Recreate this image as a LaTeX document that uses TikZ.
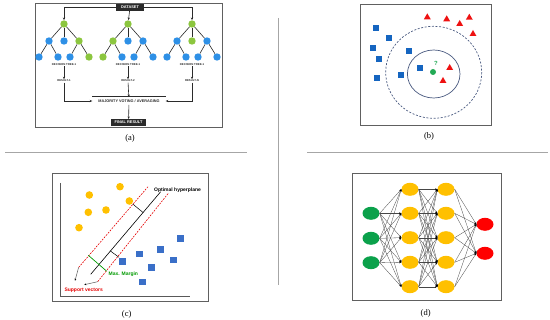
\documentclass[tikz,border=0pt]{standalone}
\usepackage{fontspec}
\setmainfont{Liberation Serif}
\setsansfont{Liberation Sans}
\usetikzlibrary{arrows.meta,positioning,calc,shapes.geometric}

\definecolor{leafgreen}{HTML}{8CC63F}
\definecolor{treeblue}{HTML}{2E90E6}
\definecolor{darkbox}{HTML}{2B2B2B}
\definecolor{knnblue}{HTML}{1565C0}
\definecolor{knnred}{HTML}{EE1111}
\definecolor{ringblue}{HTML}{4A5A80}
\definecolor{qgreen}{HTML}{22AA55}
\definecolor{gold}{HTML}{FFC000}
\definecolor{svmblue}{HTML}{3A6FC8}
\definecolor{nngreen}{HTML}{0BA14B}

\tikzset{
  panel/.style={draw=gray!75!black,line width=0.8pt},
  divider/.style={draw=gray!70,line width=0.6pt},
  caption/.style={font=\fontsize{8.5}{10}\selectfont},
  treenode/.style={circle,fill=treeblue,inner sep=0pt,minimum size=7.4pt},
  treeedge/.style={draw=darkbox,line width=0.6pt},
  flow/.style={draw=darkbox,line width=0.6pt,-{Stealth[length=2.6pt,width=2.2pt]}},
  tinylabel/.style={font=\sffamily\bfseries\fontsize{2.8}{3.4}\selectfont,text=darkbox,inner sep=0.5pt},
  darkbox/.style={fill=darkbox,text=white,font=\sffamily\bfseries\fontsize{3.9}{4.5}\selectfont,inner sep=1.6pt,minimum height=6.5pt},
  votebox/.style={draw=darkbox,double=white,double distance=0.7pt,line width=0.4pt,fill=white,
    font=\sffamily\bfseries\fontsize{3.8}{4.5}\selectfont,text=darkbox,minimum width=73pt,minimum height=7.5pt,inner sep=0.8pt},
  bluesq/.style={rectangle,fill=knnblue,inner sep=0pt,minimum size=6.2pt},
  redtri/.style={regular polygon,regular polygon sides=3,fill=knnred,inner sep=0pt,minimum size=8pt},
  ringline/.style={draw=ringblue,line width=0.7pt},
  goldball/.style={circle,fill=gold,inner sep=0pt,minimum size=7.6pt},
  svmsq/.style={rectangle,fill=svmblue,inner sep=0pt,minimum size=6.6pt},
  marginline/.style={draw=red!90!black,line width=0.6pt,dash pattern=on 1.8pt off 1.2pt},
  svmlabel/.style={font=\sffamily\bfseries\fontsize{5}{6}\selectfont,inner sep=0pt,anchor=west},
  pointer/.style={draw=gray!70!black,line width=0.5pt,-{Stealth[length=2pt,width=1.8pt,black]}},
  inputnode/.style={ellipse,fill=nngreen,inner sep=0pt,minimum width=17pt,minimum height=13pt},
  hidnode/.style={ellipse,fill=gold,inner sep=0pt,minimum width=17pt,minimum height=13pt},
  outnode/.style={ellipse,fill=red,inner sep=0pt,minimum width=17pt,minimum height=13pt},
  nnedge/.style={draw=gray!55!black,line width=0.3pt,-{Stealth[length=2.2pt,width=1.9pt,black]}}
}

\begin{document}
\begin{tikzpicture}[x=1pt,y=-1pt]
\useasboundingbox (0,0) rectangle (550,320);

% Dividers
\draw[divider] (5,152) -- (247,152);
\draw[divider] (307,152) -- (548,152);
\draw[divider] (278,18) -- (278,285);

% (a) Random forest
\draw[panel] (35,3.5) rectangle (222,127);
\foreach \t/\cx/\ca/\cb/\cc/\cd/\ce/\rs in {
    1/64/treeblue/treeblue/leafgreen/treeblue/leafgreen/1,
    2/128/leafgreen/treeblue/treeblue/leafgreen/treeblue/2,
    3/192/treeblue/leafgreen/treeblue/treeblue/treeblue/N}{
  \node[treenode,fill=leafgreen] (r\t) at (\cx,24) {};
  \node[treenode,fill=\ca] (p\t) at (\cx-15,41) {};
  \node[treenode,fill=\cb] (q\t) at (\cx,41) {};
  \node[treenode,fill=\cc] (s\t) at (\cx+15,41) {};
  \node[treenode,fill=\cd] (a\t) at (\cx-25,57) {};
  \node[treenode] (b\t) at (\cx-6,57) {};
  \node[treenode] (c\t) at (\cx+6,57) {};
  \node[treenode,fill=\ce] (d\t) at (\cx+25,57) {};
  \draw[treeedge] (r\t) -- (p\t);
  \draw[treeedge] (r\t) -- (q\t);
  \draw[treeedge] (r\t) -- (s\t);
  \draw[treeedge] (p\t) -- (a\t);
  \draw[treeedge] (p\t) -- (b\t);
  \draw[treeedge] (s\t) -- (c\t);
  \draw[treeedge] (s\t) -- (d\t);
  \node[tinylabel] (dt\t) at (\cx,64.5) {DECISION TREE-1};
  \node[tinylabel] (res\t) at (\cx,81) {RESULT-\rs};
  \draw[flow] (dt\t) -- (res\t);
}
\node[darkbox,minimum width=28pt] (data) at (130,7.5) {DATASET};
\draw[flow] (data.west) -| (r1);
\draw[flow] (data) -- (r2);
\draw[flow] (data.east) -| (r3);

\node[votebox] (vote) at (129,101) {MAJORITY VOTING / AVERAGING};
\draw[flow] (res1) |- (vote.west);
\draw[flow] (res2) -- (vote);
\draw[flow] (res3) |- (vote.east);
\node[darkbox,minimum width=35pt] (final) at (128.5,122.5) {FINAL RESULT};
\draw[flow] (vote) -- (final);
\node[caption] (capa) at (130,138) {(a)};

% (b) k-nearest neighbours
\draw[panel] (360.7,4) rectangle (491,125.7);
\draw[ringline,dash pattern=on 2pt off 1.6pt] (433.7,72.3) ellipse (48 and 46);
\draw[ringline] (433.7,74) ellipse (26.3 and 24);
\foreach \x/\y [count=\i] in {375.7/28.3,389.3/37.7,372.7/48.3,379/59,377.3/78.3,408.7/50.7,401/74.7,419.7/67.7}
  \node[bluesq] (sq\i) at (\x,\y) {};
\foreach \x/\y [count=\i] in {427.3/17.3,446.7/19.3,459.7/24,469.3/17.7,473/34,449.7/68,443/81}
  \node[redtri] (tri\i) at (\x,\y) {};
\node[circle,fill=qgreen,inner sep=0pt,minimum size=6pt] (query) at (433,72) {};
\node[font=\sffamily\bfseries\fontsize{6}{7}\selectfont,text=qgreen,inner sep=0pt] (qmark) at (436,63) {?};
\node[caption] (capb) at (429,136) {(b)};

% (c) SVM
\draw[panel] (52.3,173.3) rectangle (208.3,301.7);
\draw[gray!70!black,line width=1.2pt] (60.3,183) -- (60.3,296.7) -- (190,296.7);
\foreach \x/\y [count=\i] in {89.3/195,120/186.7,129.3/201,88.3/212.3,106/210,79/227.7}
  \node[goldball] (y\i) at (\x,\y) {};
\foreach \x/\y [count=\i] in {180.3/238.3,139.3/254,160.7/249.7,173.3/260,122.3/261.3,151.7/267.3,142.7/282}
  \node[svmsq] (b\i) at (\x,\y) {};
\coordinate (hypA) at (90.7,274.3);
\coordinate (hypB) at (160.7,191.7);
\coordinate (upA) at (78.6,267.5);
\coordinate (upB) at (148,186.7);
\coordinate (loA) at (97.7,281.7);
\coordinate (loB) at (168.3,193.3);
\draw[black,line width=0.6pt] (hypA) -- (hypB);
\draw[marginline] (upA) -- (upB);
\draw[marginline] (loA) -- (loB);
\draw[black,line width=0.5pt] (132.7,204) -- (143.3,212.7);
\draw[black,line width=0.5pt] (110,250.7) -- (119,257.3);
\draw[green!60!black,line width=0.7pt] (88.3,255.3) -- (106.7,271.2);
\node[svmlabel] (hyp) at (154,190) {Optimal hyperplane};
\node[svmlabel,text=green!60!black] (margin) at (108.5,274) {Max. Margin};
\node[svmlabel,text=red!90!black] (sv) at (64.3,290) {Support vectors};
\draw[pointer] (upA) -- (75,280.7);
\draw[pointer] (loA) -- (84.3,284.7);
\node[caption] (capc) at (126.7,314) {(c)};

% (d) Neural network
\draw[panel] (352.7,173.3) rectangle (501.7,300.7);
\foreach \i/\y in {1/213.3,2/238.3,3/262.7}
  \node[inputnode] (in\i) at (371,\y) {};
\foreach \i/\y in {1/189.3,2/213.3,3/237.7,4/262.3,5/286.7}{
  \node[hidnode] (ha\i) at (410,\y) {};
  \node[hidnode] (hb\i) at (446,\y) {};
}
\node[outnode] (out1) at (485,224.3) {};
\node[outnode] (out2) at (485,253.3) {};
\foreach \i in {1,2,3}
  \foreach \j in {1,...,5}
    \draw[nnedge] (in\i.east) -- (ha\j.west);
\foreach \i in {1,...,5}
  \foreach \j in {1,...,5}
    \draw[nnedge] (ha\i.east) -- (hb\j.west);
\foreach \i in {1,...,5}
  \foreach \j in {1,2}
    \draw[nnedge] (hb\i.east) -- (out\j.west);
\node[caption] (capd) at (425.7,313.3) {(d)};
\end{tikzpicture}
\end{document}
